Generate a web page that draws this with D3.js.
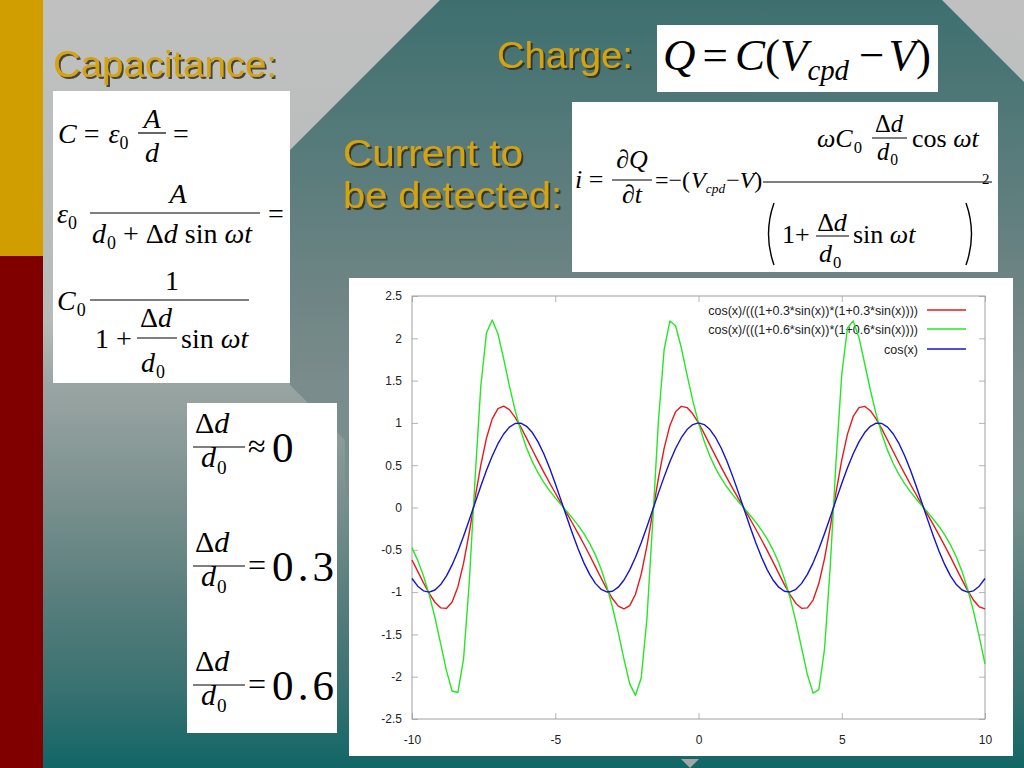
<!DOCTYPE html>
<html><head><meta charset="utf-8">
<script src="https://cdn.jsdelivr.net/npm/d3@7"></script>
<style>html,body{margin:0;padding:0;background:#fff;} svg{display:block;} text{white-space:pre;}</style>
</head><body>
<svg id="slide" width="1024" height="768"></svg>
<script>
// ---------- data ----------
const xValues = [-10,-9.8,-9.6,-9.4,-9.2,-9,-8.8,-8.6,-8.4,-8.2,-8,-7.8,-7.6,-7.4,-7.2,-7,-6.8,-6.6,-6.4,-6.2,-6,-5.8,-5.6,-5.4,-5.2,-5,-4.8,-4.6,-4.4,-4.2,-4,-3.8,-3.6,-3.4,-3.2,-3,-2.8,-2.6,-2.4,-2.2,-2,-1.8,-1.6,-1.4,-1.2,-1,-0.8,-0.6,-0.4,-0.2,0,0.2,0.4,0.6,0.8,1,1.2,1.4,1.6,1.8,2,2.2,2.4,2.6,2.8,3,3.2,3.4,3.6,3.8,4,4.2,4.4,4.6,4.8,5,5.2,5.4,5.6,5.8,6,6.2,6.4,6.6,6.8,7,7.2,7.4,7.6,7.8,8,8.2,8.4,8.6,8.8,9,9.2,9.4,9.6,9.8,10];
const redValues = [-0.620,-0.755,-0.889,-1.015,-1.120,-1.186,-1.193,-1.117,-0.939,-0.658,-0.294,0.110,0.499,0.822,1.048,1.169,1.198,1.156,1.066,0.949,0.817,0.682,0.548,0.418,0.293,0.171,0.052,-0.067,-0.186,-0.308,-0.434,-0.565,-0.699,-0.834,-0.964,-1.079,-1.165,-1.199,-1.160,-1.026,-0.787,-0.453,-0.060,0.343,0.698,0.967,1.131,1.196,1.181,1.108,1.000,0.873,0.738,0.604,0.472,0.344,0.221,0.101,-0.017,-0.136,-0.257,-0.381,-0.510,-0.643,-0.778,-0.911,-1.034,-1.134,-1.192,-1.187,-1.094,-0.899,-0.602,-0.228,0.178,0.559,0.867,1.076,1.180,1.196,1.144,1.048,0.927,0.795,0.659,0.526,0.397,0.272,0.151,0.032,-0.087,-0.206,-0.329,-0.456,-0.587,-0.722,-0.856,-0.985,-1.096,-1.174,-1.198];
const greenValues = [-0.477,-0.625,-0.807,-1.030,-1.299,-1.608,-1.925,-2.169,-2.187,-1.788,-0.881,0.336,1.429,2.066,2.217,2.054,1.757,1.437,1.148,0.904,0.704,0.542,0.408,0.296,0.200,0.114,0.034,-0.044,-0.125,-0.211,-0.309,-0.423,-0.560,-0.727,-0.932,-1.182,-1.476,-1.796,-2.085,-2.220,-2.015,-1.315,-0.182,1.017,1.865,2.204,2.148,1.888,1.568,1.263,1.000,0.782,0.605,0.460,0.341,0.239,0.149,0.067,-0.011,-0.091,-0.174,-0.267,-0.373,-0.500,-0.653,-0.841,-1.072,-1.349,-1.662,-1.975,-2.193,-2.154,-1.670,-0.688,0.541,1.573,2.122,2.206,2.010,1.702,1.386,1.104,0.868,0.675,0.517,0.388,0.279,0.185,0.101,0.021,-0.057,-0.139,-0.227,-0.327,-0.444,-0.586,-0.758,-0.971,-1.228,-1.529,-1.849];
const blueValues = [-0.839,-0.930,-0.985,-1.000,-0.975,-0.911,-0.811,-0.679,-0.519,-0.339,-0.146,0.054,0.251,0.439,0.608,0.754,0.869,0.950,0.993,0.997,0.960,0.886,0.776,0.635,0.469,0.284,0.087,-0.112,-0.307,-0.490,-0.654,-0.791,-0.897,-0.967,-0.998,-0.990,-0.942,-0.857,-0.737,-0.589,-0.416,-0.227,-0.029,0.170,0.362,0.540,0.697,0.825,0.921,0.980,1.000,0.980,0.921,0.825,0.697,0.540,0.362,0.170,-0.029,-0.227,-0.416,-0.589,-0.737,-0.857,-0.942,-0.990,-0.998,-0.967,-0.897,-0.791,-0.654,-0.490,-0.307,-0.112,0.087,0.284,0.469,0.635,0.776,0.886,0.960,0.997,0.993,0.950,0.869,0.754,0.608,0.439,0.251,0.054,-0.146,-0.339,-0.519,-0.679,-0.811,-0.911,-0.975,-1.000,-0.985,-0.930,-0.839];
const seriesNames = ["cos(x)/(((1+0.3*sin(x))*(1+0.3*sin(x))))", "cos(x)/(((1+0.6*sin(x))*(1+0.6*sin(x))))", "cos(x)"];
const xTickValues = [-10, -5, 0, 5, 10];
const xTickLabels = ["-10", "-5", "0", "5", "10"];
const yTickValues = [-2.5, -2, -1.5, -1, -0.5, 0, 0.5, 1, 1.5, 2, 2.5];
const yTickLabels = ["-2.5", "-2", "-1.5", "-1", "-0.5", "0", "0.5", "1", "1.5", "2", "2.5"];
const seriesColors = ["#e41a1c", "#26e626", "#1414c8"];

// ---------- slide ----------
const svg = d3.select("#slide");
const defs = svg.append("defs");
function grad(id, stops) {
  const g = defs.append("linearGradient").attr("id", id).attr("gradientUnits", "userSpaceOnUse")
    .attr("x1", 0).attr("y1", 0).attr("x2", 0).attr("y2", 768);
  stops.forEach(s => g.append("stop").attr("offset", s[0]).attr("stop-color", s[1]));
}
grad("gA", [[0, "#c0c0c0"], [0.42, "#b6bbba"], [0.5, "#9aa5a3"], [0.65, "#7a908e"], [0.78, "#587e7c"], [0.91, "#357070"], [1, "#116666"]]);
grad("gB", [[0, "#3e6f6f"], [0.2, "#587b7b"], [0.37, "#6d8484"], [0.5, "#7a8c8b"], [0.65, "#76908e"], [0.78, "#567e7c"], [0.91, "#357070"], [1, "#116666"]]);
defs.append("filter").attr("id", "shadow").attr("x", "-5%").attr("y", "-20%").attr("width", "115%").attr("height", "150%")
  .append("feDropShadow").attr("dx", 2).attr("dy", 2).attr("stdDeviation", 0.6)
  .attr("flood-color", "#2a2612").attr("flood-opacity", 0.8);

svg.append("rect").attr("x", 43).attr("y", 0).attr("width", 981).attr("height", 768).attr("fill", "url(#gA)");
svg.append("polygon").attr("points", "440,0 942,0 1024,82 1024,768 345,768 345,440 290,385 290,150").attr("fill", "url(#gB)");
svg.append("rect").attr("x", 0).attr("y", 0).attr("width", 43).attr("height", 256).attr("fill", "#d09e00");
svg.append("rect").attr("x", 0).attr("y", 256).attr("width", 43).attr("height", 512).attr("fill", "#800000");
svg.append("polygon").attr("points", "681,759 699,759 690,768").attr("fill", "#a4a4a4");

// titles
const TITLE_FONT = "Liberation Sans, Arial, sans-serif";
function title(x, y, str, len) {
  svg.append("text").attr("x", x).attr("y", y).text(str)
    .attr("font-family", TITLE_FONT).attr("font-size", 36.5)
    .attr("textLength", len).attr("lengthAdjust", "spacingAndGlyphs")
    .attr("fill", "#d5a310").attr("filter", "url(#shadow)");
}
title(53, 77, "Capacitance:", 224);
title(497, 68, "Charge:", 136);
title(343, 166, "Current to", 180);
title(343, 207.5, "be detected:", 219);

// white panels
[[53, 91, 237, 292], [657, 25, 281, 67], [572, 102, 426, 170], [187, 403, 150, 330], [349, 278, 664, 478]]
  .forEach(b => svg.append("rect").attr("x", b[0]).attr("y", b[1]).attr("width", b[2]).attr("height", b[3]).attr("fill", "#fff"));

// ---------- math helpers ----------
const SERIF = "Liberation Serif, Times New Roman, serif";
function m(x, y, parts, size, anchor, subRatio) {
  const t = svg.append("text").attr("x", x).attr("y", y).attr("font-family", SERIF)
    .attr("font-size", size).attr("fill", "#000").attr("text-anchor", anchor || "start");
  let shift = 0;
  parts.forEach(p => {
    const str = p[0], st = p[1] || "";
    const ts = t.append("tspan").text(str);
    let target = 0;
    if (st.includes("s")) { target = size * 0.22; ts.attr("font-size", size * (subRatio || 0.64)); }
    if (st.includes("p")) { target = -size * 0.42; ts.attr("font-size", size * 0.6); }
    if (st.includes("i")) ts.attr("font-style", "italic");
    if (target !== shift) { ts.attr("dy", target - shift); shift = target; }
    if (p[2]) ts.attr("dx", p[2]);
  });
  return t;
}
function bar(x1, x2, y, w) {
  svg.append("line").attr("x1", x1).attr("x2", x2).attr("y1", y).attr("y2", y)
    .attr("stroke", "#000").attr("stroke-width", w || 1.2);
}
function paren(x, y1, y2, dir) {
  const mid = (y1 + y2) / 2, bulge = 11 * dir;
  svg.append("path").attr("d", `M${x},${y1} Q${x - bulge},${mid} ${x},${y2}`)
    .attr("fill", "none").attr("stroke", "#000").attr("stroke-width", 1.4);
}

// Capacitance box
m(58, 143, [["C", "i"], [" = ", ""], ["ε", "i", 2], ["0", "s"]], 28);
m(152, 128, [["A", "i"]], 28, "middle"); bar(138, 166, 133); m(152, 162, [["d", "i"]], 28, "middle");
m(173, 143, [["="]], 28);
m(57, 223, [["ε", "i"], ["0", "s"]], 28);
m(178, 203, [["A", "i"]], 28, "middle"); bar(90, 260, 213);
m(92, 243, [["d", "i"], ["0", "s", 1], [" + Δ", ""], ["d", "i"], [" sin ", ""], ["ωt", "i"]], 28);
m(268, 223, [["="]], 28);
m(57, 310, [["C", "i"], ["0", "s", 1]], 28);
m(172, 290, [["1"]], 28, "middle"); bar(90, 249, 300);
m(95, 348, [["1 +"]], 28);
m(156, 327, [["Δ"], ["d", "i"]], 28, "middle"); bar(137, 177, 338);
m(141, 372, [["d", "i"], ["0", "s", 1]], 28);
m(181, 348, [["sin "], ["ωt", "i"]], 28);

// Δd/d0 box
[["≈", "0"], ["=", "0.3"], ["=", "0.6"]].forEach((r, i) => {
  const b = 447 + i * 119;
  m(195, b - 14, [["Δ"], ["d", "i"]], 30);
  bar(193, 245, b);
  m(201, b + 20, [["d", "i"], ["0", "s", 1]], 30);
  m(248, b + 10, [[r[0]]], 32);
  const t = m(272, b + 15, [[r[1]]], 43);
  if (r[1].length > 1) t.attr("textLength", 62).attr("lengthAdjust", "spacing");
});

// Charge box
m(663, 70, [["Q", "i"], ["=", "", 7], ["C", "i", 7], ["("], ["V", "i"], ["cpd", "is"], ["−", "", 10], ["V", "i", 4], [")"]], 45);

// Current box
m(575, 188, [["i", "i"], [" ="]], 26);
m(632, 168, [["∂"], ["Q", "i"]], 26, "middle"); bar(612, 652, 180);
m(632, 203, [["∂"], ["t", "i"]], 26, "middle");
m(655, 188, [["=−(", ""], ["V", "i", 1], ["cpd", "is"], ["−", "", 1], ["V", "i"], [")"]], 24, "start", 0.56);
bar(763, 992, 182);
m(817, 147, [["ω", "i"], ["C", "i"], ["0", "s", 1]], 26);
m(889, 131.5, [["Δ"], ["d", "i"]], 24.5, "middle"); bar(872, 907, 138);
m(877, 160, [["d", "i"], ["0", "s", 1]], 24.5);
m(912, 147, [["cos "], ["ωt", "i"]], 26);
paren(774, 203, 265, 1);
paren(966, 203, 265, -1);
m(782, 243, [["1+"]], 26);
m(832, 231, [["Δ"], ["d", "i"]], 26, "middle"); bar(816, 849, 236);
m(819, 262, [["d", "i"], ["0", "s", 1]], 26);
m(853, 243, [["sin "], ["ωt", "i"]], 26);
m(982, 184, [["2"]], 15);

// ---------- chart ----------
const PL = 412, PR = 985, PT = 296, PB = 719;
const x = d3.scaleLinear().domain([-10, 10]).range([PL, PR]);
const y = d3.scaleLinear().domain([-2.5, 2.5]).range([PB, PT]);
const chart = svg.append("g");
const AX_FONT = "Liberation Sans, Arial, Helvetica, sans-serif";
function styleAxis(g) {
  g.select(".domain").remove();
  g.selectAll(".tick line").attr("stroke", "#b4b4b4");
  g.selectAll(".tick text").attr("font-family", AX_FONT).attr("font-size", 12).attr("fill", "#222");
}
chart.append("g").attr("transform", `translate(0,${PB})`)
  .call(d3.axisBottom(x).tickValues(xTickValues).tickFormat((d, i) => xTickLabels[i]).tickSizeInner(-6).tickSizeOuter(0).tickPadding(16))
  .call(styleAxis);
chart.append("g").attr("transform", `translate(0,${PT})`)
  .call(d3.axisTop(x).tickValues(xTickValues).tickFormat("").tickSizeInner(-6).tickSizeOuter(0))
  .call(styleAxis);
chart.append("g").attr("transform", `translate(${PL},0)`)
  .call(d3.axisLeft(y).tickValues(yTickValues).tickFormat((d, i) => yTickLabels[i]).tickSizeInner(-6).tickSizeOuter(0).tickPadding(10))
  .call(styleAxis);
chart.append("g").attr("transform", `translate(${PR},0)`)
  .call(d3.axisRight(y).tickValues(yTickValues).tickFormat("").tickSizeInner(-6).tickSizeOuter(0))
  .call(styleAxis);
chart.append("rect").attr("x", PL).attr("y", PT).attr("width", PR - PL).attr("height", PB - PT)
  .attr("fill", "none").attr("stroke", "#a0a0a0").attr("stroke-width", 1);

const series = [redValues, greenValues, blueValues];
const line = d3.line().x((d, i) => x(xValues[i])).y(d => y(d));

// legend
const legY = [310, 329, 349];
seriesNames.forEach((name, i) => {
  chart.append("text").attr("x", 918).attr("y", legY[i] + 4.5).attr("text-anchor", "end")
    .attr("font-family", AX_FONT).attr("font-size", 12.5).attr("fill", "#222").text(name);
  chart.append("line").attr("x1", 927).attr("x2", 966).attr("y1", legY[i]).attr("y2", legY[i])
    .attr("stroke", seriesColors[i]).attr("stroke-width", 1.4);
});
series.forEach((vals, i) => {
  chart.append("path").datum(vals).attr("d", line).attr("fill", "none")
    .attr("stroke", seriesColors[i]).attr("stroke-width", 1.4).attr("stroke-linejoin", "round");
});
</script>
</body></html>
